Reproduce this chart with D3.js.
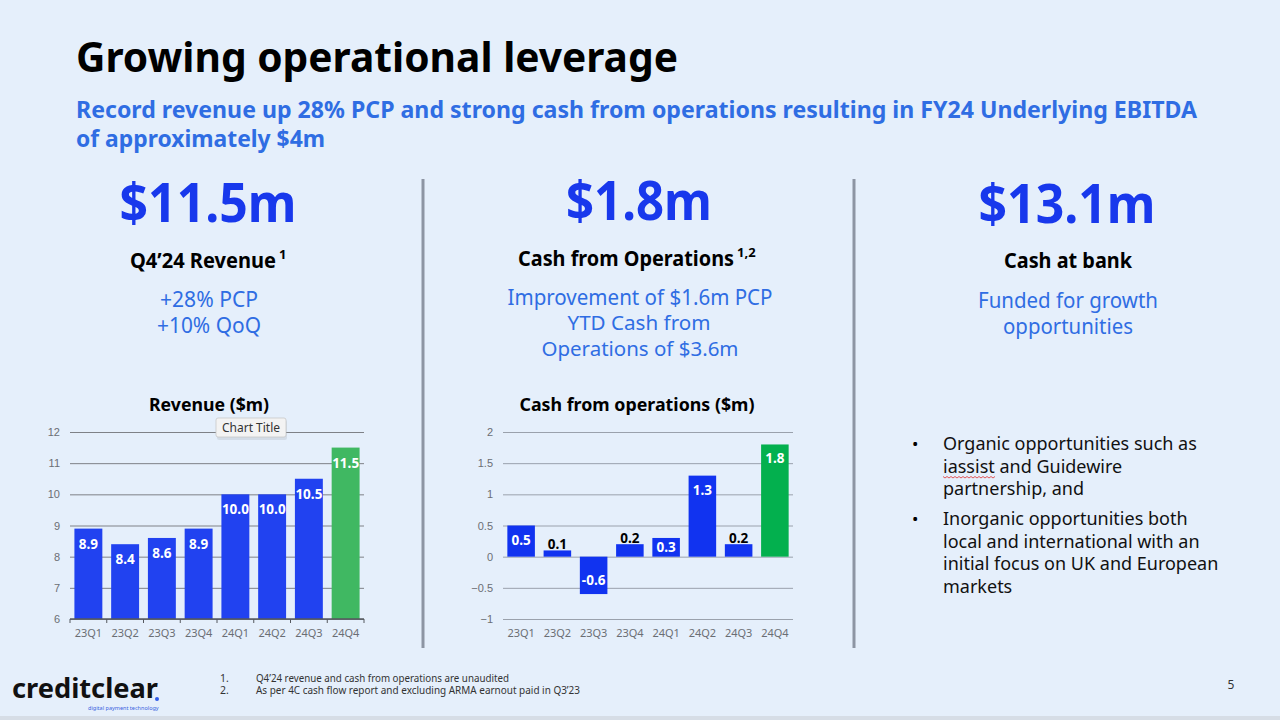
<!DOCTYPE html>
<html>
<head>
  <meta charset="utf-8">
  <title>Growing operational leverage</title>
  <script src="https://d3js.org/d3.v7.min.js"></script>
  <style>
    html, body { margin: 0; padding: 0; background: #e5effb; }
    svg { display: block; font-family: "Noto Sans", "Open Sans", sans-serif; }
    .tick-label { font-size: 11px; fill: #6b6e74; }
  </style>
</head>
<body>
<div id="slide"></div>
<script>
// chart data
var quarters = ["23Q1", "23Q2", "23Q3", "23Q4", "24Q1", "24Q2", "24Q3", "24Q4"];
var revenue = [8.9, 8.4, 8.6, 8.9, 10.0, 10.0, 10.5, 11.5];
var cashOps = [0.5, 0.1, -0.6, 0.2, 0.3, 1.3, 0.2, 1.8];
var revTicks = [6, 7, 8, 9, 10, 11, 12];
var cashTicks = [-1, -0.5, 0, 0.5, 1, 1.5, 2];

// slide texts
var title = "Growing operational leverage";
var subtitle = ["Record revenue up 28% PCP and strong cash from operations resulting in FY24 Underlying EBITDA",
                "of approximately $4m"];
var bullets = [
  ["Organic opportunities such as", "iassist and Guidewire", "partnership, and"],
  ["Inorganic opportunities both", "local and international with an", "initial focus on UK and European", "markets"]
];
var footnotes = ["Q4\u201924 revenue and cash from operations are unaudited",
                 "As per 4C cash flow report and excluding ARMA earnout paid in Q3\u201923"];

var W = 1280, H = 720;
var blue = "#1838ec", lightBlue = "#2f6de3";

var svg = d3.select("#slide").append("svg")
    .attr("width", W).attr("height", H);

svg.append("rect").attr("width", W).attr("height", H).attr("fill", "#e5effb");
svg.append("rect").attr("x", 0).attr("y", 716).attr("width", W).attr("height", 4).attr("fill", "#d6dde6");

// helper: text with fixed width
function txt(x, y, s, size, weight, color, anchor, width) {
  var t = svg.append("text")
    .attr("x", x).attr("y", y)
    .attr("font-size", size)
    .attr("font-weight", weight)
    .attr("fill", color)
    .attr("text-anchor", anchor || "start")
    .text(s);
  if (width) t.attr("textLength", width).attr("lengthAdjust", "spacingAndGlyphs");
  return t;
}

// superscript note marker after a text
function sup(t, s) {
  var b = t.node().getBBox();
  svg.append("text").attr("x", b.x + b.width + 3).attr("y", +t.attr("y") - 9)
    .attr("font-size", 13).attr("font-weight", 700).text(s);
}

// header
txt(76, 72, title, 42, 700, "#000", "start", 602);
txt(76, 118, subtitle[0], 23, 700, lightBlue, "start", 1121);
txt(76, 147, subtitle[1], 23, 700, lightBlue, "start", 249);

// dividers
[423, 854].forEach(function(x) {
  svg.append("line").attr("x1", x).attr("x2", x).attr("y1", 179).attr("y2", 648)
    .attr("stroke", "#8d95a3").attr("stroke-width", 3);
});

// headline figures
txt(208, 222, "$11.5m", 54, 700, blue, "middle", 177);
txt(639, 220, "$1.8m", 54, 700, blue, "middle", 146);
txt(1067, 223, "$13.1m", 54, 700, blue, "middle", 177);

sup(txt(203, 268, "Q4\u201924 Revenue", 21, 700, "#000", "middle", 146), "1");
sup(txt(626, 266, "Cash from Operations", 21, 700, "#000", "middle", 216), "1,2");
txt(1068, 268, "Cash at bank", 21, 700, "#000", "middle", 128);

txt(209, 307, "+28% PCP", 21, 400, lightBlue, "middle", 98);
txt(209, 333, "+10% QoQ", 21, 400, lightBlue, "middle", 104);
txt(640, 305, "Improvement of $1.6m PCP", 21, 400, lightBlue, "middle", 265);
txt(639, 330, "YTD Cash from", 20.5, 400, lightBlue, "middle", 143);
txt(640, 356, "Operations of $3.6m", 20.5, 400, lightBlue, "middle", 197);
txt(1068, 308, "Funded for growth", 21, 400, lightBlue, "middle", 180);
txt(1068, 334, "opportunities", 21, 400, lightBlue, "middle", 130);

// bar chart builder
function barChart(opt) {
  var g = svg.append("g");
  var x = d3.scaleBand().domain(quarters).range([opt.x0, opt.x1])
    .paddingInner(0.24).paddingOuter(0.12);
  var y = d3.scaleLinear().domain(d3.extent(opt.ticks)).range([619, 432]);

  // title
  g.append("text").attr("x", opt.titleX).attr("y", 411)
    .attr("text-anchor", "middle").attr("font-size", 18).attr("font-weight", 700)
    .attr("textLength", opt.titleW).attr("lengthAdjust", "spacingAndGlyphs")
    .text(opt.title);

  // grid
  var yAxis = d3.axisLeft(y).tickValues(opt.ticks).tickSize(-(opt.x1 - opt.x0)).tickPadding(10)
    .tickFormat(d3.format("~g"));
  var ga = g.append("g").attr("transform", "translate(" + opt.x0 + ",0)").call(yAxis);
  ga.select(".domain").remove();
  ga.selectAll("line").attr("stroke", opt.grid);
  ga.selectAll("text").attr("class", "tick-label").attr("font-family", null);

  // bars
  g.selectAll("rect.bar").data(opt.values).enter().append("rect")
    .attr("class", "bar")
    .attr("x", function(d, i) { return x(quarters[i]); })
    .attr("y", function(d) { return y(Math.max(d, opt.base)); })
    .attr("width", x.bandwidth())
    .attr("height", function(d) { return Math.abs(y(d) - y(opt.base)); })
    .attr("fill", function(d, i) { return i === opt.values.length - 1 ? opt.green : opt.blue; });

  // x axis
  if (opt.axisLine) {
    g.append("line").attr("x1", opt.x0).attr("x2", opt.x1).attr("y1", 619).attr("y2", 619)
      .attr("stroke", "#55585e").attr("stroke-width", 1.5);
    g.selectAll("line.xt").data(d3.range(quarters.length + 1)).enter().append("line")
      .attr("class", "xt")
      .attr("x1", function(i) { return opt.x0 + i * x.step(); })
      .attr("x2", function(i) { return opt.x0 + i * x.step(); })
      .attr("y1", 619).attr("y2", 623).attr("stroke", "#55585e");
  }
  g.selectAll("text.xl").data(quarters).enter().append("text")
    .attr("class", "tick-label")
    .attr("x", function(d) { return x(d) + x.bandwidth() / 2; })
    .attr("y", 637).attr("text-anchor", "middle").text(function(d) { return d; });

  // value labels
  g.selectAll("text.vl").data(opt.values).enter().append("text")
    .attr("x", function(d, i) { return x(quarters[i]) + x.bandwidth() / 2; })
    .attr("y", function(d) {
      var len = Math.abs(y(d) - y(opt.base));
      if (opt.outside(d)) return y(d) - 1;
      var inset = Math.min(opt.inset, len / 2);
      return d >= opt.base ? y(d) + inset + 5 : y(d) - inset + 5;
    })
    .attr("text-anchor", "middle").attr("font-size", 13.5).attr("font-weight", 700)
    .attr("fill", function(d) { return opt.outside(d) ? "#000" : "#fff"; })
    .text(function(d) { return d.toFixed(1); });
  return g;
}

barChart({
  x0: 70, x1: 364, ticks: revTicks, values: revenue, base: 6,
  title: "Revenue ($m)", titleX: 209, titleW: 120,
  grid: "#7e8187", blue: "#2142f0", green: "#40b862", axisLine: true,
  inset: 15, outside: function() { return false; }
});

barChart({
  x0: 503, x1: 793, ticks: cashTicks, values: cashOps, base: 0,
  title: "Cash from operations ($m)", titleX: 637, titleW: 235,
  grid: "#9aa1ac", blue: "#1133f0", green: "#03b04e", axisLine: false,
  inset: 14, outside: function(d) { return Math.abs(d) < 0.25; }
});

// tooltip left over in the screenshot
var tip = svg.append("g").attr("transform", "translate(216,418)");
tip.append("rect").attr("x", 1).attr("y", 2).attr("width", 70).attr("height", 20)
  .attr("fill", "#000").attr("opacity", 0.08).attr("rx", 2);
tip.append("rect").attr("width", 70).attr("height", 19).attr("fill", "#f3f3f3")
  .attr("stroke", "#c8c8c8").attr("stroke-width", 0.8).attr("rx", 2);
tip.append("text").attr("x", 35).attr("y", 14).attr("text-anchor", "middle")
  .attr("font-size", 12).attr("fill", "#333").text("Chart Title");

// bullets
var lineY = 450;
bullets.forEach(function(lines, bi) {
  svg.append("text").attr("x", 912).attr("y", lineY).attr("font-size", 17).text("\u2022");
  lines.forEach(function(l, li) {
    svg.append("text").attr("x", 943).attr("y", lineY).attr("font-size", 18)
      .attr("fill", "#111").text(l);
    if (bi === 0 && li === 1) {
      // red spell-check squiggle under "iassist"
      var w = 52, pts = [];
      for (var k = 0; k <= w; k += 2) pts.push([943 + k, lineY + 4 + (k % 4 === 0 ? 0 : 1.5)]);
      svg.append("path").attr("d", d3.line()(pts)).attr("fill", "none")
        .attr("stroke", "#e03030").attr("stroke-width", 0.8);
    }
    lineY += 22.5;
  });
  lineY += 7.5;
});

// footnotes
footnotes.forEach(function(f, i) {
  svg.append("text").attr("x", 220).attr("y", 682 + i * 12).attr("font-size", 10.5)
    .attr("fill", "#333").text((i + 1) + ".");
  svg.append("text").attr("x", 256).attr("y", 682 + i * 12).attr("font-size", 10.5)
    .attr("fill", "#333").attr("textLength", i === 0 ? 253 : 324).attr("lengthAdjust", "spacingAndGlyphs")
    .text(f);
});

// logo
svg.append("text").attr("x", 12).attr("y", 698).attr("font-size", 27).attr("font-weight", 700)
  .attr("fill", "#111").attr("textLength", 146).attr("lengthAdjust", "spacingAndGlyphs")
  .text("creditclear");
svg.append("circle").attr("cx", 157).attr("cy", 699).attr("r", 2).attr("fill", "#2f5be8");
svg.append("text").attr("x", 88).attr("y", 710).attr("font-size", 5.5).attr("fill", "#3a5fe0")
  .text("digital payment technology");

// page number
svg.append("text").attr("x", 1231).attr("y", 689).attr("font-size", 12).attr("fill", "#333")
  .attr("text-anchor", "middle").text("5");
</script>
</body>
</html>
